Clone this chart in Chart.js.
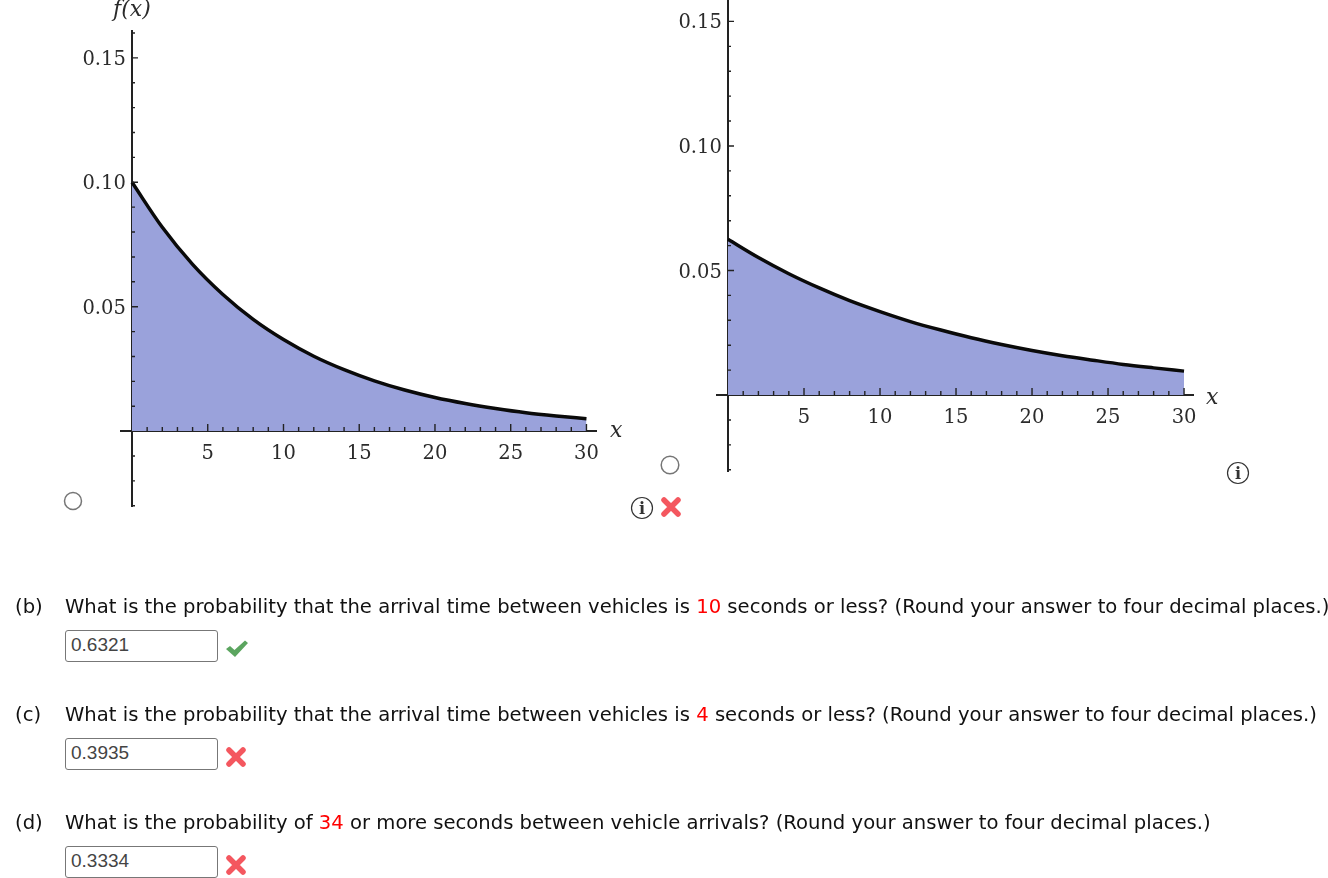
<!DOCTYPE html>
<html>
<head>
<meta charset="utf-8">
<script src="https://cdn.jsdelivr.net/npm/chart.js@4"></script>
<style>
  html, body { margin: 0; padding: 0; background: #fff; width: 1328px; height: 878px; overflow: hidden; }
  canvas { position: absolute; }
  .abs { position: absolute; white-space: nowrap; }
  .axis-name { font-family: "DejaVu Serif", serif; font-style: italic; font-size: 22px; line-height: 26px; color: #2b2b2b; }
  .q { font-family: "DejaVu Sans", sans-serif; font-size: 19.6px; color: #111; line-height: 24px; }
  .q em { font-style: normal; color: #f00; }
  .answer { box-sizing: border-box; width: 153px; height: 32px; left: 65px; border: 1px solid #777; border-radius: 3px;
    font-family: "Liberation Sans", sans-serif; font-size: 19px; line-height: 27px; padding-left: 5px; color: #444; }
  svg { position: absolute; }
</style>
</head>
<body>
<canvas id="left" width="650" height="560" style="left:0;top:-30px"></canvas>
<canvas id="right" width="600" height="530" style="left:660px;top:-30px"></canvas>

<div class="abs axis-name" style="left:113px;top:-4px"><i>f</i>(x)</div>
<div class="abs axis-name" style="left:610px;top:417px">x</div>
<div class="abs axis-name" style="left:1206px;top:384px">x</div>

<svg style="left:63px;top:491px" width="20" height="20"><circle cx="10" cy="10" r="8.5" fill="#fff" stroke="#767676" stroke-width="1.5"/></svg>
<svg style="left:660px;top:455px" width="20" height="20"><circle cx="10" cy="10" r="8.8" fill="#fff" stroke="#767676" stroke-width="1.5"/></svg>

<svg style="left:630px;top:496px" width="24" height="24"><circle cx="12" cy="12" r="10.5" fill="none" stroke="#333" stroke-width="1.2"/><text x="12" y="18" text-anchor="middle" font-family="DejaVu Serif" font-weight="bold" font-size="16" fill="#333">i</text></svg>
<svg style="left:1226px;top:461px" width="24" height="24"><circle cx="12" cy="12" r="10.5" fill="none" stroke="#333" stroke-width="1.2"/><text x="12" y="18" text-anchor="middle" font-family="DejaVu Serif" font-weight="bold" font-size="16" fill="#333">i</text></svg>

<svg style="left:660px;top:496px" width="22" height="22"><path d="M4 4L18 18M18 4L4 18" stroke="#f4575f" stroke-width="5.5" stroke-linecap="round"/></svg>
<svg style="left:225px;top:746px" width="22" height="22"><path d="M4 4L18 18M18 4L4 18" stroke="#f4575f" stroke-width="5.5" stroke-linecap="round"/></svg>
<svg style="left:225px;top:854px" width="22" height="22"><path d="M4 4L18 18M18 4L4 18" stroke="#f4575f" stroke-width="5.5" stroke-linecap="round"/></svg>
<svg style="left:225px;top:638px" width="24" height="24"><path d="M1 11L5 8L9.500 12L20 2.500L23 5L10 19Z" fill="#5ba55f"/></svg>

<div class="abs q" style="left:15px;top:595px">(b)</div>
<div class="abs q" style="left:65px;top:595px">What is the probability that the arrival time between vehicles is <em>10</em> seconds or less? (Round your answer to four decimal places.)</div>
<div class="abs answer" style="top:630px">0.6321</div>

<div class="abs q" style="left:15px;top:703px">(c)</div>
<div class="abs q" style="left:65px;top:703px">What is the probability that the arrival time between vehicles is <em>4</em> seconds or less? (Round your answer to four decimal places.)</div>
<div class="abs answer" style="top:738px">0.3935</div>

<div class="abs q" style="left:15px;top:811px">(d)</div>
<div class="abs q" style="left:65px;top:811px">What is the probability of <em>34</em> or more seconds between vehicle arrivals? (Round your answer to four decimal places.)</div>
<div class="abs answer" style="top:846px">0.3334</div>

<script>
const xValues = [0, 2, 4, 6, 8, 10, 12, 14, 16, 18, 20, 22, 24, 26, 28, 30];
const leftDensity = [0.1, 0.0819, 0.067, 0.0549, 0.0449, 0.0368, 0.0301, 0.0247, 0.0202, 0.0165, 0.0135, 0.0111, 0.0091, 0.0074, 0.0061, 0.005];
const rightDensity = [0.0625, 0.0552, 0.0487, 0.043, 0.0379, 0.0335, 0.0295, 0.0261, 0.023, 0.0203, 0.0179, 0.0158, 0.014, 0.0123, 0.0109, 0.0096];
const xMajorTicks = [5, 10, 15, 20, 25, 30];
const xMinorTicks = [1, 2, 3, 4, 6, 7, 8, 9, 11, 12, 13, 14, 16, 17, 18, 19, 21, 22, 23, 24, 26, 27, 28, 29];
const yMajorTicks = [0.05, 0.10, 0.15];
const yMinorTicks = [-0.03, -0.02, -0.01, 0.01, 0.02, 0.03, 0.04, 0.06, 0.07, 0.08, 0.09, 0.11, 0.12, 0.13, 0.14, 0.16];

Chart.defaults.animation = false;

// ticks point inward from the axes and come in two lengths, which Chart.js can't do by itself
const inwardTicks = {
  id: "inwardTicks",
  afterDatasetsDraw(chart) {
    const { x, y } = chart.scales;
    const ctx = chart.ctx;
    const x0 = x.getPixelForValue(0);
    const y0 = y.getPixelForValue(0);
    ctx.save();
    ctx.strokeStyle = "#222";
    ctx.lineWidth = 1.4;
    ctx.beginPath();
    xMajorTicks.forEach((v) => { const p = x.getPixelForValue(v); ctx.moveTo(p, y0); ctx.lineTo(p, y0 - 7); });
    xMinorTicks.forEach((v) => { const p = x.getPixelForValue(v); ctx.moveTo(p, y0); ctx.lineTo(p, y0 - 4); });
    yMajorTicks.forEach((v) => { const p = y.getPixelForValue(v); ctx.moveTo(x0, p); ctx.lineTo(x0 + 6, p); });
    yMinorTicks.forEach((v) => { const p = y.getPixelForValue(v); ctx.moveTo(x0, p); ctx.lineTo(x0 + 3, p); });
    ctx.stroke();
    ctx.restore();
  },
};

function drawDensity(id, density, bounds, padding) {
  new Chart(document.getElementById(id), {
    type: "line",
    data: {
      datasets: [{
        data: xValues.map((x, i) => ({ x: x, y: density[i] })),
        borderColor: "#0a0a0a",
        borderWidth: 3.5,
        backgroundColor: "#9aa2db",
        fill: "origin",
        pointRadius: 0,
        cubicInterpolationMode: "monotone",
        clip: false,
      }],
    },
    options: {
      responsive: false,
      devicePixelRatio: 1,
      layout: { padding: padding },
      plugins: { legend: { display: false }, tooltip: { enabled: false } },
      scales: {
        x: {
          type: "linear",
          position: { y: 0 },
          min: bounds.xMin,
          max: bounds.xMax,
          afterBuildTicks: (s) => { s.ticks = xMajorTicks.map((v) => ({ value: v })); },
          grid: { drawOnChartArea: false, drawTicks: false },
          border: { color: "#222", width: 2 },
          ticks: {
            autoSkip: false, maxRotation: 0, padding: 11, color: "#2b2b2b",
            font: { family: "DejaVu Serif", size: 19.5 },
            callback: (v) => String(v),
          },
        },
        y: {
          type: "linear",
          position: { x: 0 },
          min: bounds.yMin,
          max: bounds.yMax,
          afterBuildTicks: (s) => { s.ticks = yMajorTicks.map((v) => ({ value: v })); },
          grid: { drawOnChartArea: false, drawTicks: false },
          border: { color: "#222", width: 2 },
          ticks: {
            autoSkip: false, color: "#2b2b2b", labelOffset: 2,
            font: { family: "DejaVu Serif", size: 19.5 },
            // labels on an axis placed at a value ignore ticks.padding, so the gap is a trailing space
            callback: (v) => v.toFixed(2) + "\u00a0",
          },
        },
      },
    },
    plugins: [inwardTicks],
  });
}

drawDensity("left", leftDensity,
  { xMin: -0.726, xMax: 30.63, yMin: -0.0301, yMax: 0.1608 },
  { left: 121, right: 54, top: 61, bottom: 24 });
drawDensity("right", rightDensity,
  { xMin: -0.724, xMax: 30.59, yMin: -0.0305, yMax: 0.1586 },
  { left: 57, right: 67, top: 30, bottom: 29 });
</script>
</body>
</html>
